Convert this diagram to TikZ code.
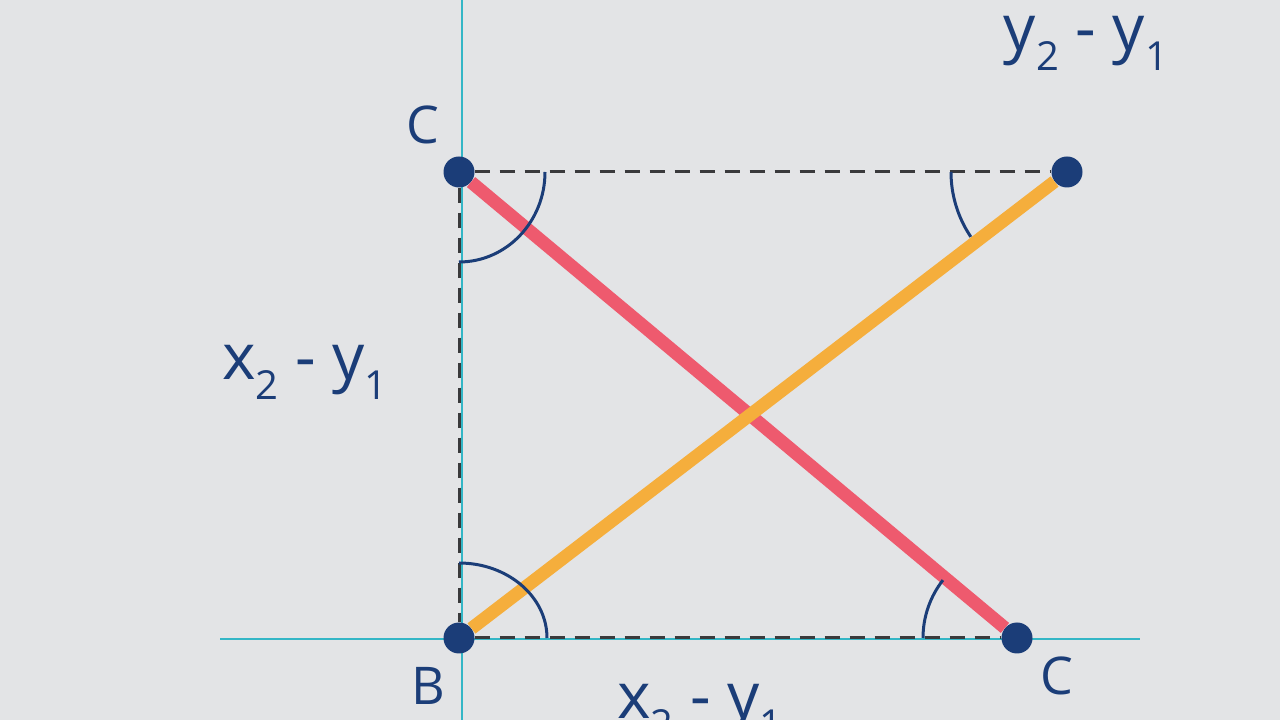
\documentclass[tikz,border=0pt]{standalone}
\usepackage{fontspec}
\setmainfont{Open Sans}
\definecolor{navy}{HTML}{1B3D78}
\definecolor{axiscyan}{HTML}{34B6C6}
\definecolor{segred}{HTML}{EE5A6E}
\definecolor{segorange}{HTML}{F5AE3C}
\definecolor{dashgray}{HTML}{3A3A3C}
\definecolor{paper}{HTML}{E3E4E6}
\newcommand{\sub}[1]{\raisebox{-0.3em}{\fontsize{40}{40}\selectfont #1}}

\begin{document}
\begin{tikzpicture}[x=1pt, y=1pt,
       dot/.style={circle,inner sep=0pt,minimum size=31pt,fill=navy},
       lbl/.style={text=navy,inner sep=0pt,font=\fontsize{52}{54}\selectfont},
       difflbl/.style={text=navy,inner sep=0pt,anchor=base,font=\fontsize{64}{70}\selectfont},
        axis/.style={line width=2.5pt,axiscyan},
        guide/.style={line width=3pt,dashgray,dash pattern=on 15pt off 10pt},
        seg/.style={line width=13pt},
        angmark/.style={line width=3pt,navy}]

        \fill [paper] (0,0) rectangle (1280,720);
        \useasboundingbox (0,0) rectangle (1280,720);

        \coordinate (ytop) at (462, 720);
        \coordinate (ybot) at (462, 0);
        \coordinate (xleft) at (220, 81);
        \coordinate (xright) at (1140, 81);
        \draw [axis] (ybot) -- (ytop);
        \draw [axis] (xleft) -- (xright);

	\node [dot] (c1) at (459, 548)  {};
        \node [dot] (p)  at (1067, 548) {};
        \node [dot] (b)  at (459, 82)   {};
        \node [dot] (c2) at (1017, 82)  {};

        \path [guide] (c1) edge (p);
        \path [guide] (c1) edge (b);
        \path [guide] (b) edge (c2);

        \path [seg, segred] (c1) edge (c2);
        \path [seg, segorange] (b) edge (p);

        \draw [angmark] ([shift={(86,0)}]c1.center) arc[start angle=0,end angle=-90,x radius=86,y radius=90];
        \draw [angmark] ([shift={(-116,0)}]p.center) arc[start angle=180,end angle=214,radius=116];
        \draw [angmark] ([shift={(88,0)}]b.center) arc[start angle=0,end angle=90,x radius=88,y radius=75];
        \draw [angmark] ([shift={(-94,0)}]c2.center) arc[start angle=180,end angle=142,radius=94];

        \node [lbl] (lc1) at (423, 595) {C};
        \node [lbl] (lb)  at (428, 34)  {B};
        \node [lbl] (lc2) at (1057, 44) {C};

        \node [difflbl] (dy)  at (1086, 669) {y\sub{2} - y\sub{1}};
        \node [difflbl] (dxl) at (305, 340)  {x\sub{2} - y\sub{1}};
        \node [difflbl] (dxb) at (700, 1)    {x\sub{2} - y\sub{1}};
\end{tikzpicture}
\end{document}
